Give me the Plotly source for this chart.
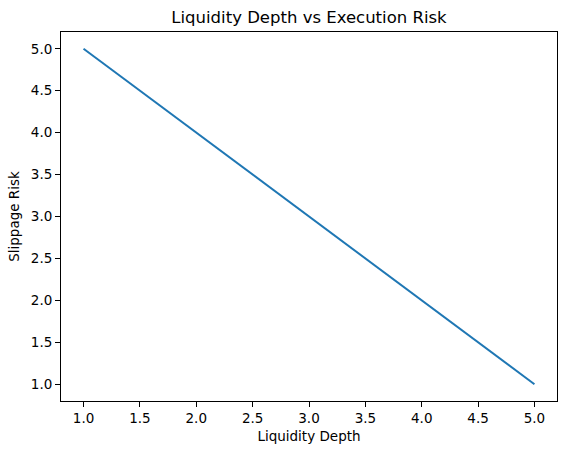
import plotly.graph_objects as go

liquidity_depth = [1, 2, 3, 4, 5]
slippage_risk = [5, 4, 3, 2, 1]
tick_vals = [1.0, 1.5, 2.0, 2.5, 3.0, 3.5, 4.0, 4.5, 5.0]
tick_text = ["1.0", "1.5", "2.0", "2.5", "3.0", "3.5", "4.0", "4.5", "5.0"]

fig = go.Figure()
fig.add_trace(go.Scatter(x=liquidity_depth, y=slippage_risk, mode="lines",
                         line=dict(color="#1f77b4", width=2)))

axis_common = dict(showgrid=False, zeroline=False, showline=True, linecolor="black",
                   linewidth=1, mirror=True, ticks="outside", ticklen=5, tickwidth=1,
                   tickcolor="black", tickfont=dict(size=13.5, color="black"),
                   title_font=dict(size=13.5, color="black"))

fig.update_layout(
    width=567, height=455,
    margin=dict(l=61, r=10, t=32, b=54),
    paper_bgcolor="white", plot_bgcolor="white",
    font=dict(family="DejaVu Sans", color="black"),
    showlegend=False,
    title=dict(text="Liquidity Depth vs Execution Risk", x=(61 + 248) / 567, xanchor="center",
               y=1 - 17 / 455, yanchor="middle", font=dict(size=16.5, color="black")),
    xaxis=dict(range=[0.8, 5.2], tickvals=tick_vals, ticktext=tick_text,
               title=dict(text="Liquidity Depth", standoff=6), **axis_common),
    yaxis=dict(range=[0.8, 5.2], tickvals=tick_vals, ticktext=tick_text,
               title=dict(text="Slippage Risk", standoff=8), **axis_common),
)

fig.write_html("out.html",
               config={"displayModeBar": False, "staticPlot": True},
               post_script="document.body.style.margin='0';document.body.style.padding='0';"
                           "document.body.style.overflow='hidden';")
